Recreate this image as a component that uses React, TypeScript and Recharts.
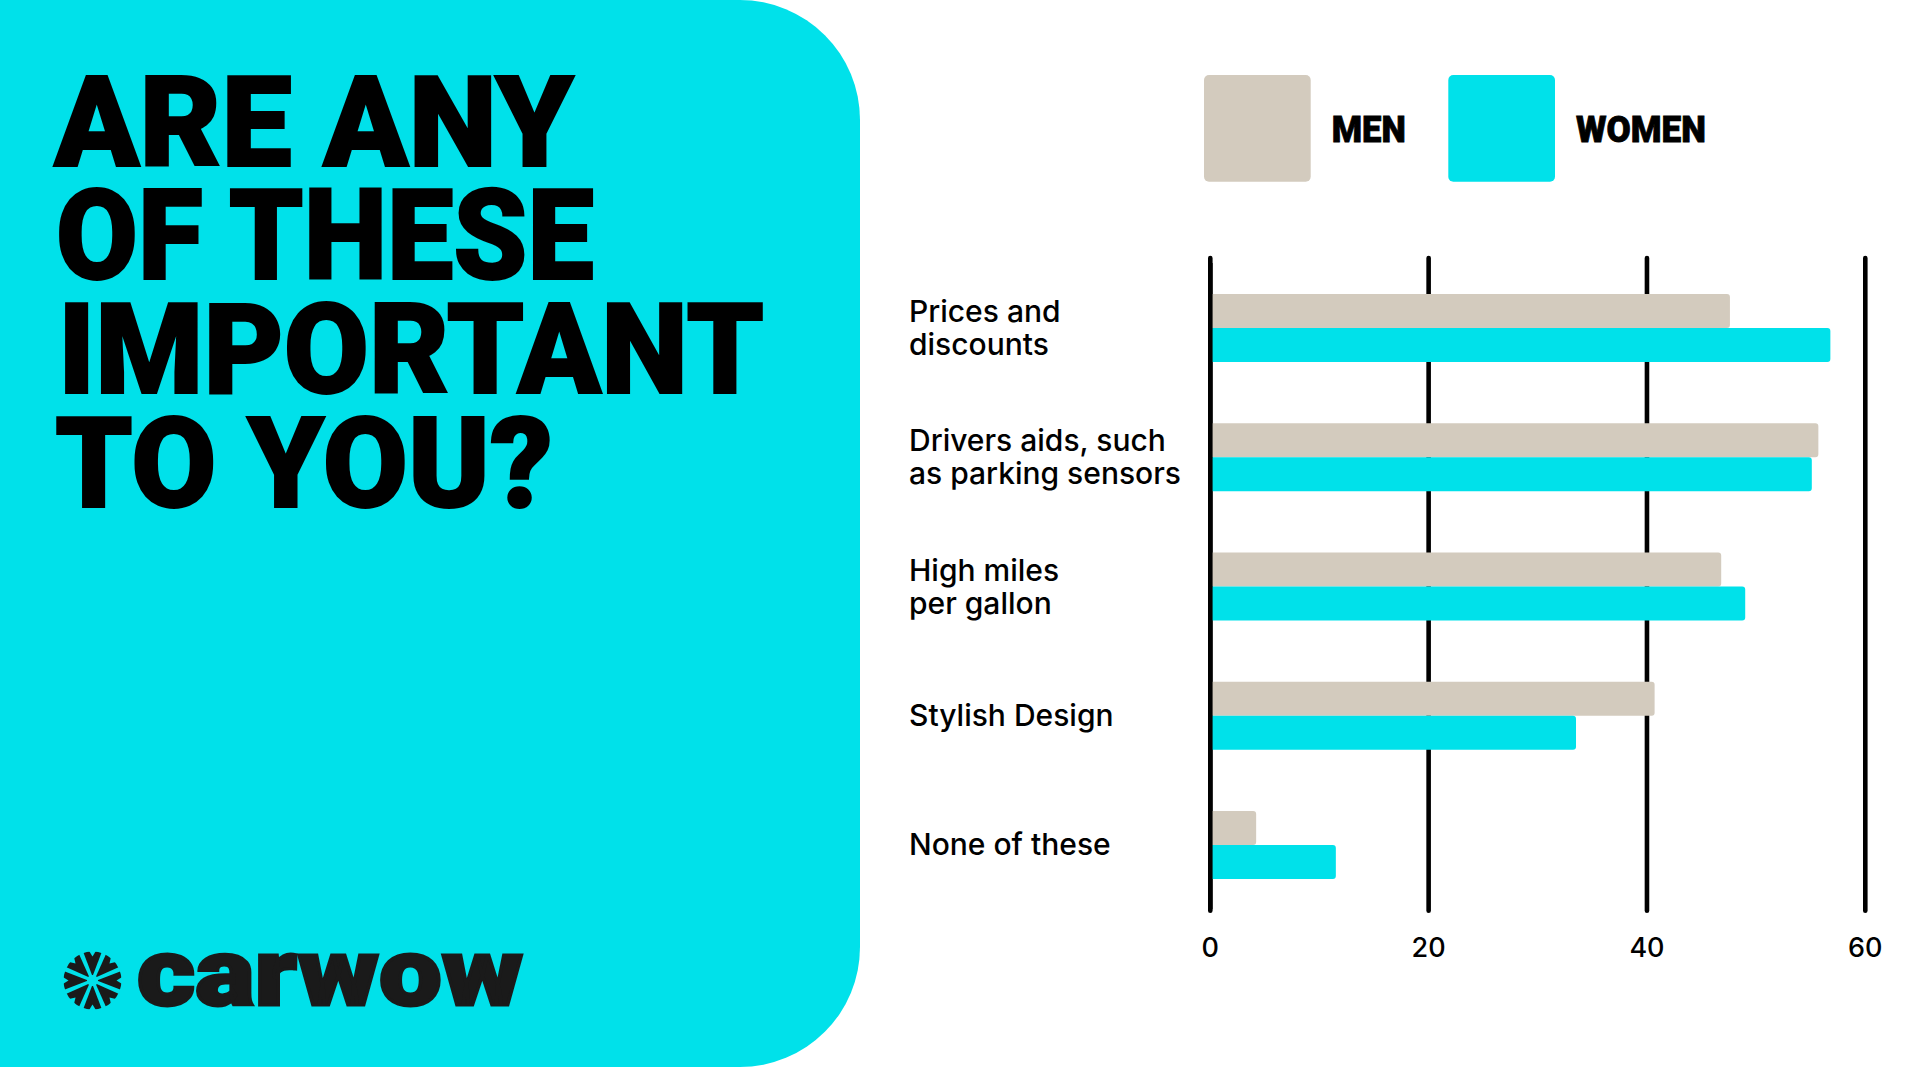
import { BarChart, Bar, XAxis, YAxis, CartesianGrid, Legend, ReferenceLine } from 'recharts'

const categories = ['Prices and\ndiscounts', 'Drivers aids, such\nas parking sensors', 'High miles\nper gallon', 'Stylish Design', 'None of these']
const menValues = [47.6, 55.7, 46.8, 40.7, 4.2]
const womenValues = [56.8, 55.1, 49.0, 33.5, 11.5]
const xTicks = [0, 20, 40, 60]
const seriesNames = ['MEN', 'WOMEN']

const CYAN = '#00e1ea'
const BEIGE = '#d3cbbe'
const LABEL_FONT = "Inter, 'Noto Sans', 'Liberation Sans', sans-serif"
const HEAVY_FONT = "Roboto, 'Liberation Sans', sans-serif"

const data = categories.map((name, i) => ({ name, men: menValues[i], women: womenValues[i] }))

function CategoryTick({ y, payload }: any) {
  const lines = String(payload.value).split('\n')
  const lh = 33
  const start = y - ((lines.length - 1) * lh) / 2 + 10.8
  return (
    <text fontFamily={LABEL_FONT} fontSize={30} fontWeight={500} fill="#000">
      {lines.map((l, i) => (
        <tspan key={i} x={29} y={start + i * lh}>{l}</tspan>
      ))}
    </text>
  )
}

function ValueTick({ x, y, payload }: any) {
  return (
    <text x={x} y={y + 48} textAnchor="middle" fontFamily={LABEL_FONT} fontSize={27} fontWeight={500} fill="#000">
      {payload.value}
    </text>
  )
}

function gridLine(p: any) {
  return (
    <line key={`v-${p.x1}`} x1={p.x1} x2={p.x2} y1={p.y1 - 5} y2={p.y2 + 1.5} stroke="#000" strokeWidth={4.6} strokeLinecap="round" />
  )
}

const legendTextWidth: Record<string, number> = { MEN: 74, WOMEN: 130 }

function LegendContent({ payload }: any) {
  const items = payload || []
  return (
    <svg width={520} height={110} style={{ display: 'block', overflow: 'visible' }}>
      {items.map((item: any, i: number) => (
        <g key={item.value} transform={`translate(${i * 244.3},0)`}>
          <rect x={0} y={0} width={106.7} height={106.7} rx={5} fill={item.color} />
          <text x={127.7} y={67.3} fontFamily={HEAVY_FONT} fontWeight={900} fontSize={37} fill="#000" stroke="#000" strokeWidth={0.8}
            textLength={legendTextWidth[item.value] || 100} lengthAdjust="spacingAndGlyphs">
            {item.value}
          </text>
        </g>
      ))}
    </svg>
  )
}

function Logo() {
  const petals = [0, 1, 2, 3, 4, 5, 6, 7]
  return (
    <svg width={560} height={160} style={{ position: 'absolute', left: 0, top: 900 }}>
      <g transform="translate(92.5,80.5)">
        <circle r={29} fill="#1a1a1a" />
        {petals.map((i) => (
          <g key={i} transform={`rotate(${i * 45 + 22.5})`}>
            <polygon points="-1.6,-4 1.6,-4 2.4,-31 -2.4,-31" fill={CYAN} />
          </g>
        ))}
        {petals.map((i) => (
          <g key={'n' + i} transform={`rotate(${i * 45})`}>
            <polygon points="-4,-30.5 4,-30.5 0,-24" fill={CYAN} />
          </g>
        ))}
        <circle r={5.5} fill={CYAN} />
      </g>
      <text x={137} y={105} fontFamily={HEAVY_FONT} fontWeight={900} fontSize={95} fill="#1a1a1a" stroke="#1a1a1a" strokeWidth={3}
        textLength={386} lengthAdjust="spacingAndGlyphs">carwow</text>
    </svg>
  )
}

export default function App() {
  return (
    <div style={{ position: 'absolute', left: 0, top: 0, width: 1920, height: 1067, background: '#fff', overflow: 'hidden' }}>
      <div style={{ position: 'absolute', left: 0, top: 0, width: 860, height: 1067, background: CYAN, borderRadius: '0 120px 120px 0' }} />
      <svg width={860} height={540} style={{ position: 'absolute', left: 0, top: 0 }}>
        <g fontFamily={HEAVY_FONT} fontWeight={900} fontSize={126} fill="#000" stroke="#000" strokeWidth={2}>
          <text x={54} y={166} textLength={520} lengthAdjust="spacingAndGlyphs">ARE ANY</text>
          <text x={56} y={279} textLength={538} lengthAdjust="spacingAndGlyphs">OF THESE</text>
          <text x={58} y={392.5} textLength={706} lengthAdjust="spacingAndGlyphs">IMPORTANT</text>
          <text x={55} y={507} textLength={498} lengthAdjust="spacingAndGlyphs">TO YOU?</text>
        </g>
      </svg>
      <Logo />
      <div style={{ position: 'absolute', left: 880, top: 0 }}>
        <BarChart width={1040} height={1067} data={data} layout="vertical" barGap={0}
          margin={{ top: 263.1, right: 54.7, bottom: 97.7, left: 0 }}>
          <CartesianGrid horizontal={false} vertical={gridLine} />
          <XAxis type="number" domain={[0, 60]} ticks={xTicks} axisLine={false} tickLine={false} tickSize={0} tickMargin={0} height={60} tick={<ValueTick />} />
          <YAxis type="category" dataKey="name" width={330.3} axisLine={false} tickLine={false} tickSize={0} tick={<CategoryTick />} />
          <Legend layout="horizontal" verticalAlign="middle" align="center" content={<LegendContent />}
            wrapperStyle={{ position: 'absolute', top: 75, left: 324, width: 520, height: 110 }} />
          <Bar dataKey="men" name={seriesNames[0]} fill={BEIGE} barSize={34} radius={[0, 3, 3, 0]} isAnimationActive={false} />
          <Bar dataKey="women" name={seriesNames[1]} fill={CYAN} barSize={34} radius={[0, 3, 3, 0]} isAnimationActive={false} />
          <ReferenceLine x={0} stroke="#000" strokeWidth={4.6} />
        </BarChart>
      </div>
    </div>
  )
}
